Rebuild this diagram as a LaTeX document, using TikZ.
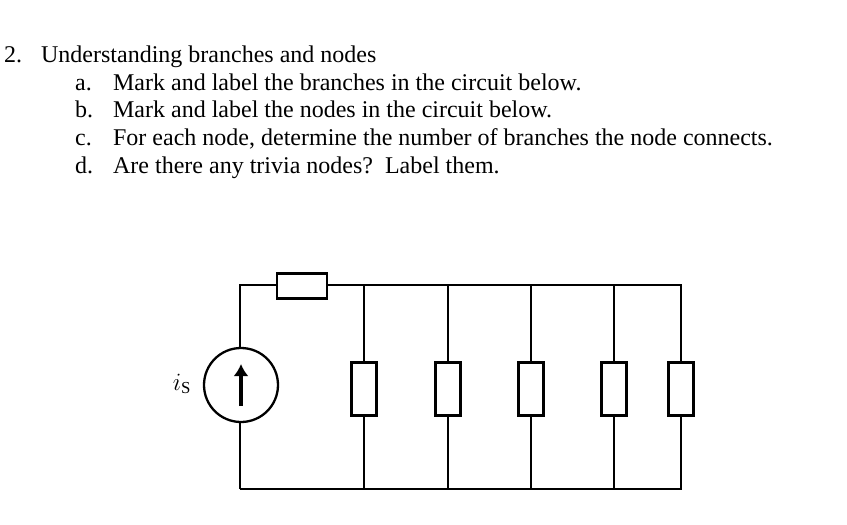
\documentclass[tikz,border=0pt]{standalone}
\usepackage{fontspec}
\setmainfont{Liberation Serif}
\usetikzlibrary{arrows.meta}
\begin{document}
\begin{tikzpicture}[x=1pt,y=-1pt,line width=2.3pt,
  txt/.style={anchor=base west,inner sep=0pt,font=\fontsize{24}{26}\selectfont},
  vres/.style={draw,line width=2.3pt,fill=white,minimum width=25pt,minimum height=53pt,inner sep=0pt}]
\useasboundingbox (0,0) rectangle (847,525);
\node[txt] (t0) at (3,62) {2.};
\node[txt] (t1) at (40,62) {Understanding branches and nodes};
\node[txt] (ta) at (74,90) {a.};
\node[txt] (tab) at (112,90) {Mark and label the branches in the circuit below.};
\node[txt] (tb) at (74,117) {b.};
\node[txt] (tbb) at (112,117) {Mark and label the nodes in the circuit below.};
\node[txt] (tc) at (74,145) {c.};
\node[txt] (tcb) at (112,145) {For each node, determine the number of branches the node connects.};
\node[txt] (td) at (74,173) {d.};
\node[txt] (tdb) at (112,173) {Are there any trivia nodes?\ \ Label them.};
% wires
\coordinate (tl) at (240,285); \coordinate (bl) at (240,489);
\coordinate (tr) at (681,285); \coordinate (br) at (681,489);
\draw (bl) -- (tl) -- (tr) -- (br) -- (bl);
\foreach \x/\n in {364/1,448/2,531/3,614/4} {\draw (\x,285) -- (\x,489);}
\node[draw,line width=2.3pt,fill=white,minimum width=50pt,minimum height=25pt,inner sep=0pt] (rs) at (302,286) {};
\foreach \x/\n in {364/1,448/2,531/3,614/4,681/5} {\node[vres] (r\n) at (\x,389) {};}
\node[circle,draw,line width=2.3pt,fill=white,minimum size=74pt,inner sep=0pt] (src) at (241,385) {};
\draw[line width=4.5pt,-{Latex[length=12pt,width=15pt]}] (241,406) -- (241,364);
\node[anchor=center,font=\fontsize{24}{26}\selectfont] (is) at (182,384) {$i_{\mathrm{S}}$};
\end{tikzpicture}
\end{document}
